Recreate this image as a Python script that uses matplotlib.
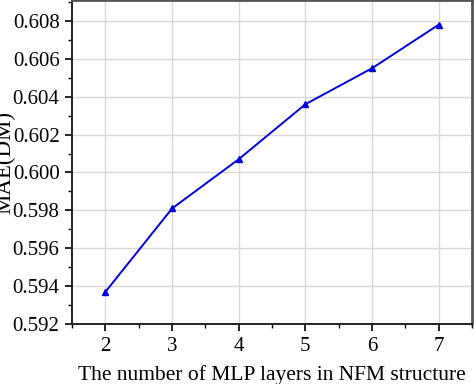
import matplotlib
matplotlib.use('Agg')
import matplotlib.pyplot as plt
from matplotlib.ticker import MultipleLocator, FormatStrFormatter

# data
layers = [2, 3, 4, 5, 6, 7]
mae = [0.5937, 0.5981, 0.6007, 0.6036, 0.6055, 0.6078]

plt.rcParams['font.family'] = ['Liberation Serif', 'DejaVu Serif']

fig = plt.figure(figsize=(4.74, 3.84), dpi=100)
ax = fig.add_axes([0.152, 0.156, 0.844, 0.844])

# the line with triangle markers
ax.plot(layers, mae, color='#0000dd', marker='^', markersize=5, linewidth=1.4)

ax.set_xlim(1.5, 7.5)
ax.set_ylim(0.592, 0.6091)
ax.xaxis.set_major_locator(MultipleLocator(1))
ax.xaxis.set_minor_locator(MultipleLocator(0.5))
ax.yaxis.set_major_locator(MultipleLocator(0.002))
ax.yaxis.set_minor_locator(MultipleLocator(0.001))
ax.yaxis.set_major_formatter(FormatStrFormatter('%.3f'))

ax.grid(True, which='major', color='#d8d8d8', linewidth=1.0)
ax.set_axisbelow(True)
ax.tick_params(which='major', direction='out', length=5, width=1.2, labelsize=15, pad=4)
ax.tick_params(which='minor', direction='out', length=3, width=1.0)
for side in ['left', 'bottom']:
    ax.spines[side].set_linewidth(1.4)
    ax.spines[side].set_color('#222222')
for side in ['top', 'right']:
    ax.spines[side].set_linewidth(2.0)
    ax.spines[side].set_color('#555555')

ax.set_xlabel('The number of MLP layers in NFM structure', fontsize=15.5, labelpad=7)
ax.set_ylabel('MAE(DM)', fontsize=16.5)
# the reference has the y label pressed against the left edge
ax.yaxis.set_label_coords(-0.142, 0.5)

fig.savefig('out.png', dpi=100)
